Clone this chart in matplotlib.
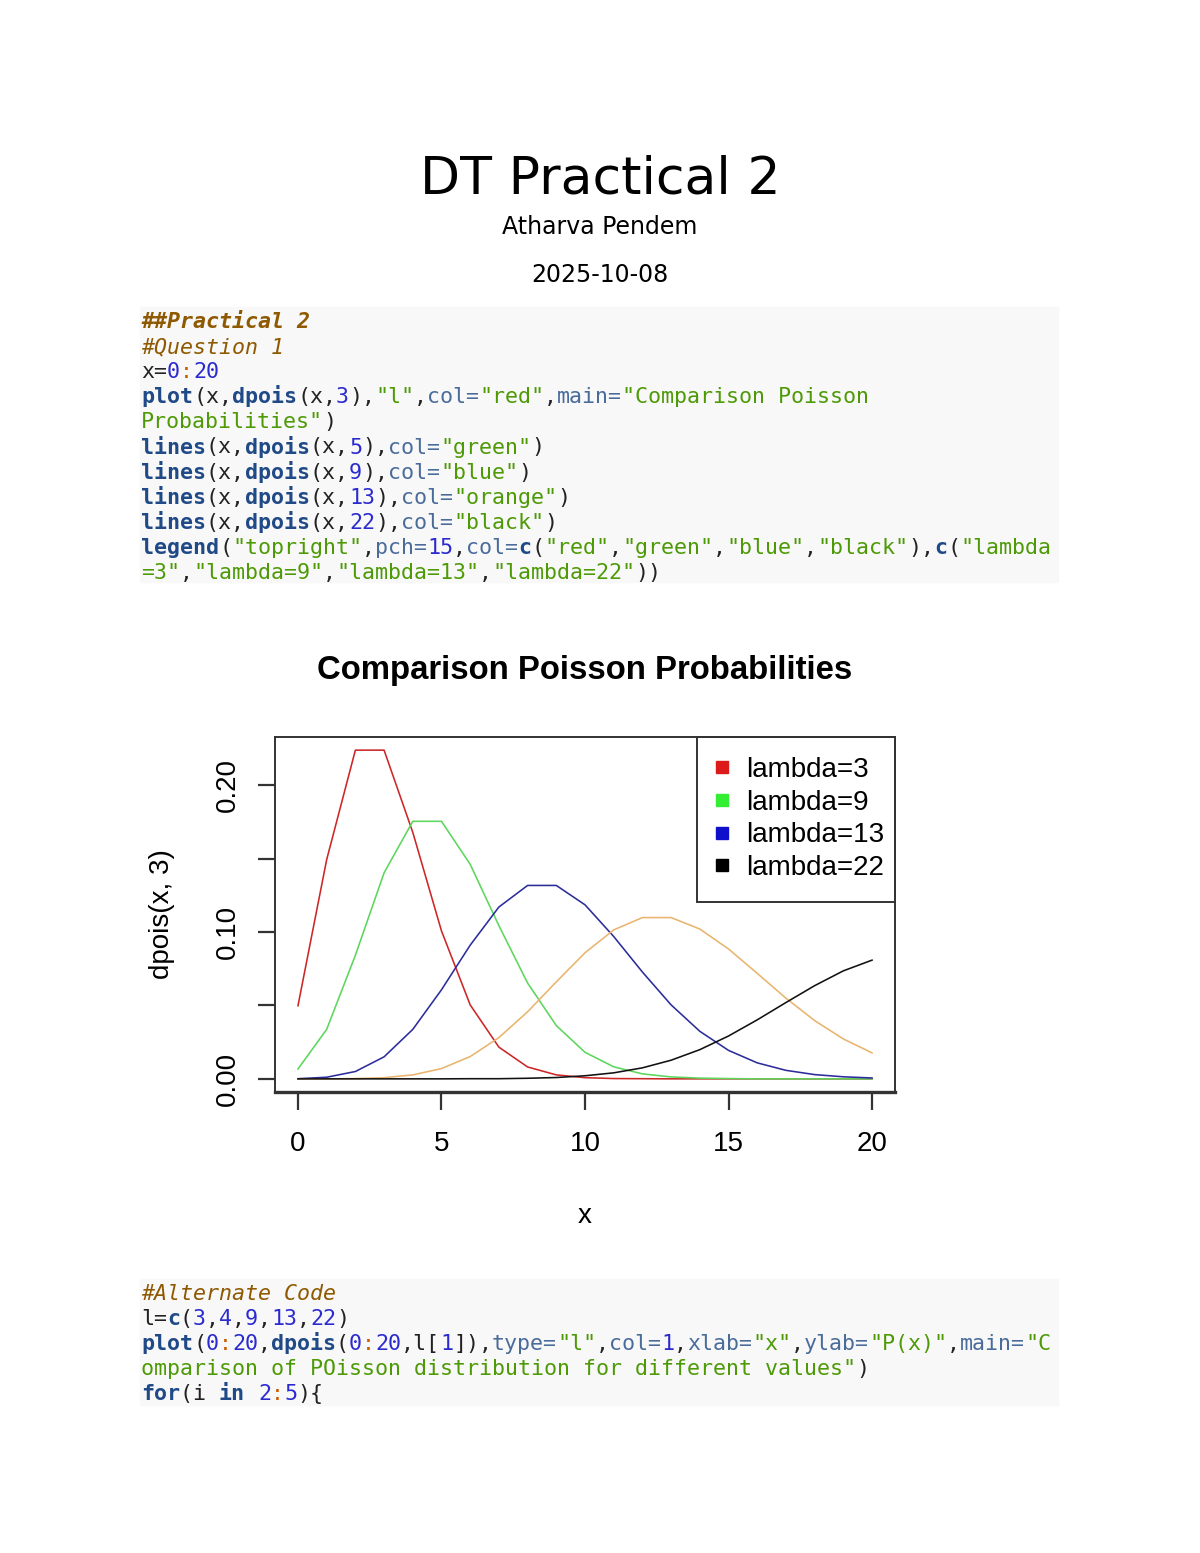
import matplotlib
matplotlib.use("Agg")
import matplotlib.pyplot as plt
from matplotlib.patches import Rectangle
from matplotlib.lines import Line2D

# Werte (dpois fuer x = 0..20)
x = list(range(21))
p3 = [0.0498, 0.1494, 0.2240, 0.2240, 0.1680, 0.1008, 0.0504, 0.0216, 0.0081, 0.0027,
      0.0008, 0.0002, 0.0001, 0.0000, 0.0000, 0.0000, 0.0000, 0.0000, 0.0000, 0.0000, 0.0000]
p5 = [0.0067, 0.0337, 0.0842, 0.1404, 0.1755, 0.1755, 0.1462, 0.1044, 0.0653, 0.0363,
      0.0181, 0.0082, 0.0034, 0.0013, 0.0005, 0.0002, 0.0000, 0.0000, 0.0000, 0.0000, 0.0000]
p9 = [0.0001, 0.0011, 0.0050, 0.0150, 0.0337, 0.0607, 0.0911, 0.1171, 0.1318, 0.1318,
      0.1186, 0.0970, 0.0728, 0.0504, 0.0324, 0.0194, 0.0109, 0.0058, 0.0029, 0.0014, 0.0006]
p13 = [0.0000, 0.0000, 0.0002, 0.0008, 0.0027, 0.0070, 0.0152, 0.0281, 0.0457, 0.0661,
       0.0859, 0.1015, 0.1099, 0.1099, 0.1021, 0.0885, 0.0719, 0.0550, 0.0397, 0.0272, 0.0177]
p22 = [0.0000, 0.0000, 0.0000, 0.0000, 0.0000, 0.0000, 0.0001, 0.0001, 0.0004, 0.0009,
       0.0021, 0.0041, 0.0075, 0.0127, 0.0199, 0.0292, 0.0402, 0.0520, 0.0635, 0.0736, 0.0809]
series = [p3, p5, p9, p13, p22]
line_cols = ["#cc2626", "#5cd65c", "#2c2c9c", "#e8b46e", "#111111"]

leg_labels = ["lambda=3", "lambda=9", "lambda=13", "lambda=22"]
leg_cols = ["#dd1a1a", "#33ee33", "#1010cc", "#000000"]

yticks = [0.0, 0.05, 0.10, 0.15, 0.20]
ylabels = ["0.00", "", "0.10", "", "0.20"]
xticks = [0, 5, 10, 15, 20]

# Code-Bloecke: (text, stil)
code1 = [
    [("##Practical 2", "d")],
    [("#Question 1", "c")],
    [("x=", ""), ("0", "n"), (":", "o"), ("20", "n")],
    [("plot", "f"), ("(x,", ""), ("dpois", "f"), ("(x,", ""), ("3", "n"), ("),", ""),
     ('"l"', "s"), (",", ""), ("col=", "a"), ('"red"', "s"), (",", ""), ("main=", "a"),
     ('"Comparison Poisson', "s")],
    [('Probabilities"', "s"), (")", "")],
    [("lines", "f"), ("(x,", ""), ("dpois", "f"), ("(x,", ""), ("5", "n"), ("),", ""),
     ("col=", "a"), ('"green"', "s"), (")", "")],
    [("lines", "f"), ("(x,", ""), ("dpois", "f"), ("(x,", ""), ("9", "n"), ("),", ""),
     ("col=", "a"), ('"blue"', "s"), (")", "")],
    [("lines", "f"), ("(x,", ""), ("dpois", "f"), ("(x,", ""), ("13", "n"), ("),", ""),
     ("col=", "a"), ('"orange"', "s"), (")", "")],
    [("lines", "f"), ("(x,", ""), ("dpois", "f"), ("(x,", ""), ("22", "n"), ("),", ""),
     ("col=", "a"), ('"black"', "s"), (")", "")],
    [("legend", "f"), ("(", ""), ('"topright"', "s"), (",", ""), ("pch=", "a"), ("15", "n"),
     (",", ""), ("col=", "a"), ("c", "f"), ("(", ""), ('"red"', "s"), (",", ""),
     ('"green"', "s"), (",", ""), ('"blue"', "s"), (",", ""), ('"black"', "s"), ("),", ""),
     ("c", "f"), ("(", ""), ('"lambda', "s")],
    [('=3"', "s"), (",", ""), ('"lambda=9"', "s"), (",", ""), ('"lambda=13"', "s"), (",", ""),
     ('"lambda=22"', "s"), ("))", "")],
]
code2 = [
    [("#Alternate Code", "c")],
    [("l=", ""), ("c", "f"), ("(", ""), ("3", "n"), (",", ""), ("4", "n"), (",", ""), ("9", "n"),
     (",", ""), ("13", "n"), (",", ""), ("22", "n"), (")", "")],
    [("plot", "f"), ("(", ""), ("0", "n"), (":", "o"), ("20", "n"), (",", ""), ("dpois", "f"),
     ("(", ""), ("0", "n"), (":", "o"), ("20", "n"), (",l[", ""), ("1", "n"), ("]),", ""),
     ("type=", "a"), ('"l"', "s"), (",", ""), ("col=", "a"), ("1", "n"), (",", ""),
     ("xlab=", "a"), ('"x"', "s"), (",", ""), ("ylab=", "a"), ('"P(x)"', "s"), (",", ""),
     ("main=", "a"), ('"C', "s")],
    [('omparison of POisson distribution for different values"', "s"), (")", "")],
    [("for", "k"), ("(i ", ""), ("in", "k"), (" ", ""), ("2", "n"), (":", "o"), ("5", "n"),
     ("){", "")],
]

STIL = {
    "": ("#222222", "normal", "normal"),
    "d": ("#8f5902", "bold", "italic"),
    "c": ("#8f5902", "normal", "italic"),
    "f": ("#204a87", "bold", "normal"),
    "k": ("#204a87", "bold", "normal"),
    "a": ("#4a6c9b", "normal", "normal"),
    "n": ("#2a2acf", "normal", "normal"),
    "s": ("#4e9a06", "normal", "normal"),
    "o": ("#ce5c00", "normal", "normal"),
}

CW = 13.0  # px pro Zeichen


def code_block(ax, lines, top, height, base0, step=25.1):
    ax.add_patch(Rectangle((140, top), 918, height, color="#f8f8f8", zorder=0))
    for i, toks in enumerate(lines):
        col = 0
        for tok, st in toks:
            c, w, s = STIL[st]
            ax.text(141 + col * CW, base0 + i * step, tok, family="DejaVu Sans Mono",
                    fontsize=15.55, color=c, weight=w, style=s, va="baseline", ha="left")
            col += len(tok)


fig = plt.figure(figsize=(12, 15.53), dpi=100)
page = fig.add_axes([0, 0, 1, 1])
page.set_xlim(0, 1200); page.set_ylim(1553, 0)
page.axis("off")

page.text(600, 194, "DT Practical 2", fontsize=37.5, ha="center", va="baseline", family="DejaVu Sans")
page.text(600, 234, "Atharva Pendem", fontsize=17, ha="center", va="baseline", family="DejaVu Sans")
page.text(600, 282, "2025-10-08", fontsize=17, ha="center", va="baseline", family="DejaVu Sans")

code_block(page, code1, 307, 275, 328)
code_block(page, code2, 1279, 126, 1300)

# Diagramm
ax = fig.add_axes([275 / 1200, (1553 - 1092) / 1553, 620 / 1200, 355 / 1553])
for ys, c in zip(series, line_cols):
    ax.plot(x, ys, color=c, lw=1.15)
ax.set_xlim(-0.8, 20.8)
ax.set_ylim(-0.00896, 0.23296)
ax.set_xticks(xticks)
ax.set_xticklabels([str(t) for t in xticks], family="Liberation Sans", fontsize=20)
ax.set_yticks(yticks)
ax.set_yticklabels(ylabels, family="Liberation Sans", fontsize=20, rotation=90, va="center")
ax.tick_params(axis="x", length=13, width=1.6, pad=15, color="#333333")
ax.tick_params(axis="y", length=12.5, width=1.6, pad=12, color="#333333")
for side, sp in ax.spines.items():
    sp.set_linewidth(2.4 if side == "bottom" else 1.4)
    sp.set_color("#333333")
ax.set_xlabel("x", family="Liberation Sans", fontsize=20, labelpad=33)
ax.set_ylabel("dpois(x, 3)", family="Liberation Sans", fontsize=20, labelpad=29)

# Legendenkasten wie in R: Rahmen separat, Eintraege ohne Rahmen
fig.add_artist(Rectangle((697, 737), 198, 165, fill=False, ec="#333333", lw=1.4,
                         transform=page.transData, zorder=10))
handles = [Line2D([], [], marker="s", ls="none", color=c, markersize=8.5) for c in leg_cols]
leg = ax.legend(handles, leg_labels, loc="upper left", bbox_to_anchor=(709, 757),
                bbox_transform=page.transData, borderaxespad=0, borderpad=0,
                frameon=False, handlelength=0.94, handletextpad=0.4,
                labelspacing=0.24, prop={"family": "Liberation Sans", "size": 20})

page.text(585, 671, "Comparison Poisson Probabilities", family="Liberation Sans",
          fontsize=23.7, weight="bold", ha="center", va="center")

fig.savefig("out.png", dpi=100)
